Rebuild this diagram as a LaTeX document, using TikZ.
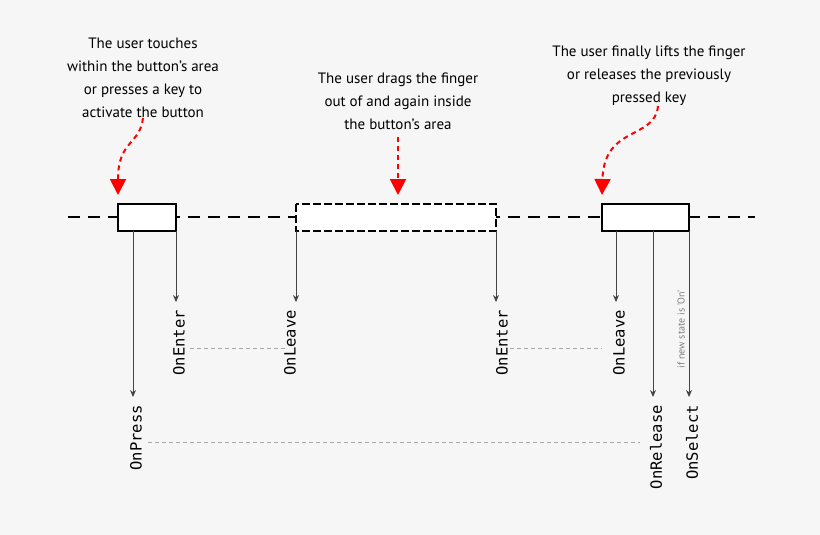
\documentclass[tikz,border=0pt]{standalone}
\usepackage{fontspec}
\setmainfont{PT Sans}
\newfontfamily\monof{DejaVu Sans Mono}
\usetikzlibrary{arrows.meta}
\definecolor{bg}{HTML}{F6F6F6}
\definecolor{ln}{HTML}{444444}
\newcommand{\ap}{\char"27{}}
\begin{document}
\begin{tikzpicture}[x=1pt,y=-1pt,
  evbox/.style={draw,line width=2.4pt,fill=white},
  tl/.style={line width=2.8pt,dash pattern=on 12pt off 8pt},
  ev/.style={draw=ln,line width=0.9pt,-{Stealth[length=7pt,width=6pt]}},
  lab/.style={font=\monof\fontsize{15.5}{15.5}\selectfont,rotate=90,anchor=east,inner sep=0pt},
  gd/.style={draw=gray!70,line width=0.8pt,dash pattern=on 4pt off 3pt},
  txt/.style={align=center,font=\fontsize{15}{23}\selectfont,anchor=north,inner sep=0pt},
  red/.style={draw=red,line width=2pt,dash pattern=on 5pt off 4pt,-{Triangle[length=16pt,width=16pt,fill=red]}}]
\useasboundingbox[fill=bg] (0,0) rectangle (820,535);
\coordinate (L) at (68,217); \coordinate (R) at (755,217);
\draw[tl] (L) -- (R);
\node[evbox,minimum width=58pt,minimum height=27pt,inner sep=0pt] (b1) at (147,217.5) {};
\draw[line width=2.4pt,fill=white,dash pattern=on 8pt off 3pt] (296,204) rectangle (496,231);
\node[minimum width=200pt,minimum height=27pt,inner sep=0pt] (b2) at (396,217.5) {};
\node[evbox,minimum width=87pt,minimum height=27pt,inner sep=0pt] (b3) at (645.5,217.5) {};
\coordinate (e1) at (133,397); \coordinate (e1s) at (133,231);
\coordinate (e2s) at (176,231); \coordinate (e2) at (176,302);
\coordinate (e3s) at (296,231); \coordinate (e3) at (296,302);
\coordinate (e4s) at (496,231); \coordinate (e4) at (496,302);
\coordinate (e5s) at (616,231); \coordinate (e5) at (616,302);
\coordinate (e6s) at (653,231); \coordinate (e6) at (653,397);
\coordinate (e7s) at (689,231); \coordinate (e7) at (689,397);
\foreach \s/\e in {e1s/e1,e2s/e2,e3s/e3,e4s/e4,e5s/e5,e6s/e6,e7s/e7}\draw[ev] (\s) -- (\e);
\node[lab] (onpress) at (136,405) {OnPress};
\node[lab] (onenter1) at (179,310) {OnEnter};
\node[lab] (onleave1) at (290,310) {OnLeave};
\node[lab] (onenter2) at (502,310) {OnEnter};
\node[lab] (onleave2) at (619,310) {OnLeave};
\node[lab] (onrel) at (656,405) {OnRelease};
\node[lab] (onsel) at (692,405) {OnSelect};
\node[rotate=90,anchor=east,inner sep=0pt,text=gray,font=\fontsize{10}{10}\selectfont] (cond) at (681,290) {if new state is \ap On\ap};
\draw[gd] (190,348) -- (285,348);
\draw[gd] (510,348) -- (602,348);
\draw[gd] (148,442) -- (640,442);
\node[txt] (t1) at (143,38) {The user touches\\within the button\ap s area\\or presses a key to\\activate the button};
\node[txt] (t2) at (398,73) {The user drags the finger\\out of and again inside\\the button\ap s area};
\node[txt] (t3) at (649,46) {The user finally lifts the finger\\or releases the previously\\pressed key};
\coordinate (r1) at (143,118); \coordinate (r1e) at (118,195);
\coordinate (r2) at (398,137); \coordinate (r2e) at (398,195);
\coordinate (r3) at (658,106); \coordinate (r3e) at (602,195);
\draw[red] (r1) .. controls (140,145) and (118,140) .. (r1e);
\draw[red] (r2) -- (r2e);
\draw[red] (r3) .. controls (655,140) and (604,125) .. (r3e);
\end{tikzpicture}
\end{document}
